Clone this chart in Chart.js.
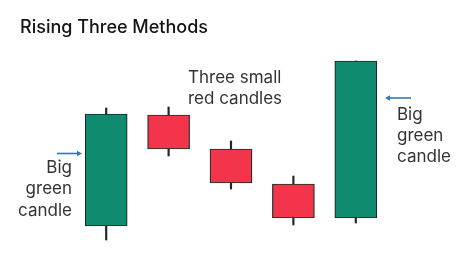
<!DOCTYPE html>
<html>
<head>
<meta charset="utf-8">
<script src="https://cdn.jsdelivr.net/npm/chart.js@4"></script>
<style>
html,body{margin:0;padding:0;background:#fff;}
#wrap{width:474px;height:267px;position:relative;}
</style>
</head>
<body>
<div id="wrap"><canvas id="c" width="474" height="267"></canvas></div>
<script>
const categories = ['1', '2', '3', '4', '5'];
const opens  = [24, 135, 101, 66, 32];
const closes = [136, 101, 67, 32, 189];
const highs  = [142, 143, 109, 74, 189];
const lows   = [10, 94, 61, 25, 27];
const titleText = 'Rising Three Methods';
const midLabel = ['Three small', 'red candles'];
const sideLabel = ['Big', 'green', 'candle'];

const GREEN = '#0f8c70', RED = '#f2354a', EDGE = '#1c2a26';
const colors = opens.map((o, i) => closes[i] >= o ? GREEN : RED);

const annot = {
  id: 'annot',
  afterDraw(chart) {
    const ctx = chart.ctx;
    ctx.save();
    ctx.fillStyle = '#141414';
    ctx.font = '500 18px Inter, "Open Sans", sans-serif';
    ctx.textBaseline = 'alphabetic';
    ctx.textAlign = 'left';
    ctx.fillText(titleText, 20, 33);

    ctx.fillStyle = '#333';
    ctx.font = '17px Inter, "Open Sans", sans-serif';
    ctx.textAlign = 'left';
    ctx.fillText(midLabel[0], 188, 83);
    ctx.fillText(midLabel[1], 188, 104);

    ctx.textAlign = 'right';
    [173, 194, 216].forEach((y, i) => ctx.fillText(sideLabel[i], 72, y));
    ctx.textAlign = 'left';
    [120, 141, 162].forEach((y, i) => ctx.fillText(sideLabel[i], 397, y));

    ctx.strokeStyle = '#2b7bb9';
    ctx.fillStyle = '#2b7bb9';
    ctx.lineWidth = 1.6;
    ctx.beginPath(); ctx.moveTo(57, 153.5); ctx.lineTo(79, 153.5); ctx.stroke();
    ctx.beginPath(); ctx.moveTo(82, 153.5); ctx.lineTo(77, 150.8); ctx.lineTo(77, 156.2); ctx.closePath(); ctx.fill();
    ctx.beginPath(); ctx.moveTo(411, 98); ctx.lineTo(388, 98); ctx.stroke();
    ctx.beginPath(); ctx.moveTo(385, 98); ctx.lineTo(390, 95.3); ctx.lineTo(390, 100.7); ctx.closePath(); ctx.fill();
    ctx.restore();
  }
};

new Chart(document.getElementById('c'), {
  type: 'bar',
  data: {
    labels: categories,
    datasets: [
      {
        label: 'wick',
        data: highs.map((h, i) => [lows[i], h]),
        backgroundColor: EDGE,
        borderWidth: 0,
        barThickness: 1.5,
        grouped: false,
        order: 2
      },
      {
        label: 'body',
        data: opens.map((o, i) => [o, closes[i]]),
        backgroundColor: colors,
        borderColor: EDGE,
        borderWidth: 1.2,
        borderSkipped: false,
        barThickness: 42,
        grouped: false,
        order: 1
      }
    ]
  },
  options: {
    responsive: false,
    animation: false,
    layout: { padding: { left: 75, right: 87, top: 40, bottom: 17 } },
    plugins: { legend: { display: false }, tooltip: { enabled: false }, title: { display: false } },
    scales: {
      x: { display: false, offset: true },
      y: { display: false, min: 0, max: 210 }
    }
  },
  plugins: [annot]
});
</script>
</body>
</html>
